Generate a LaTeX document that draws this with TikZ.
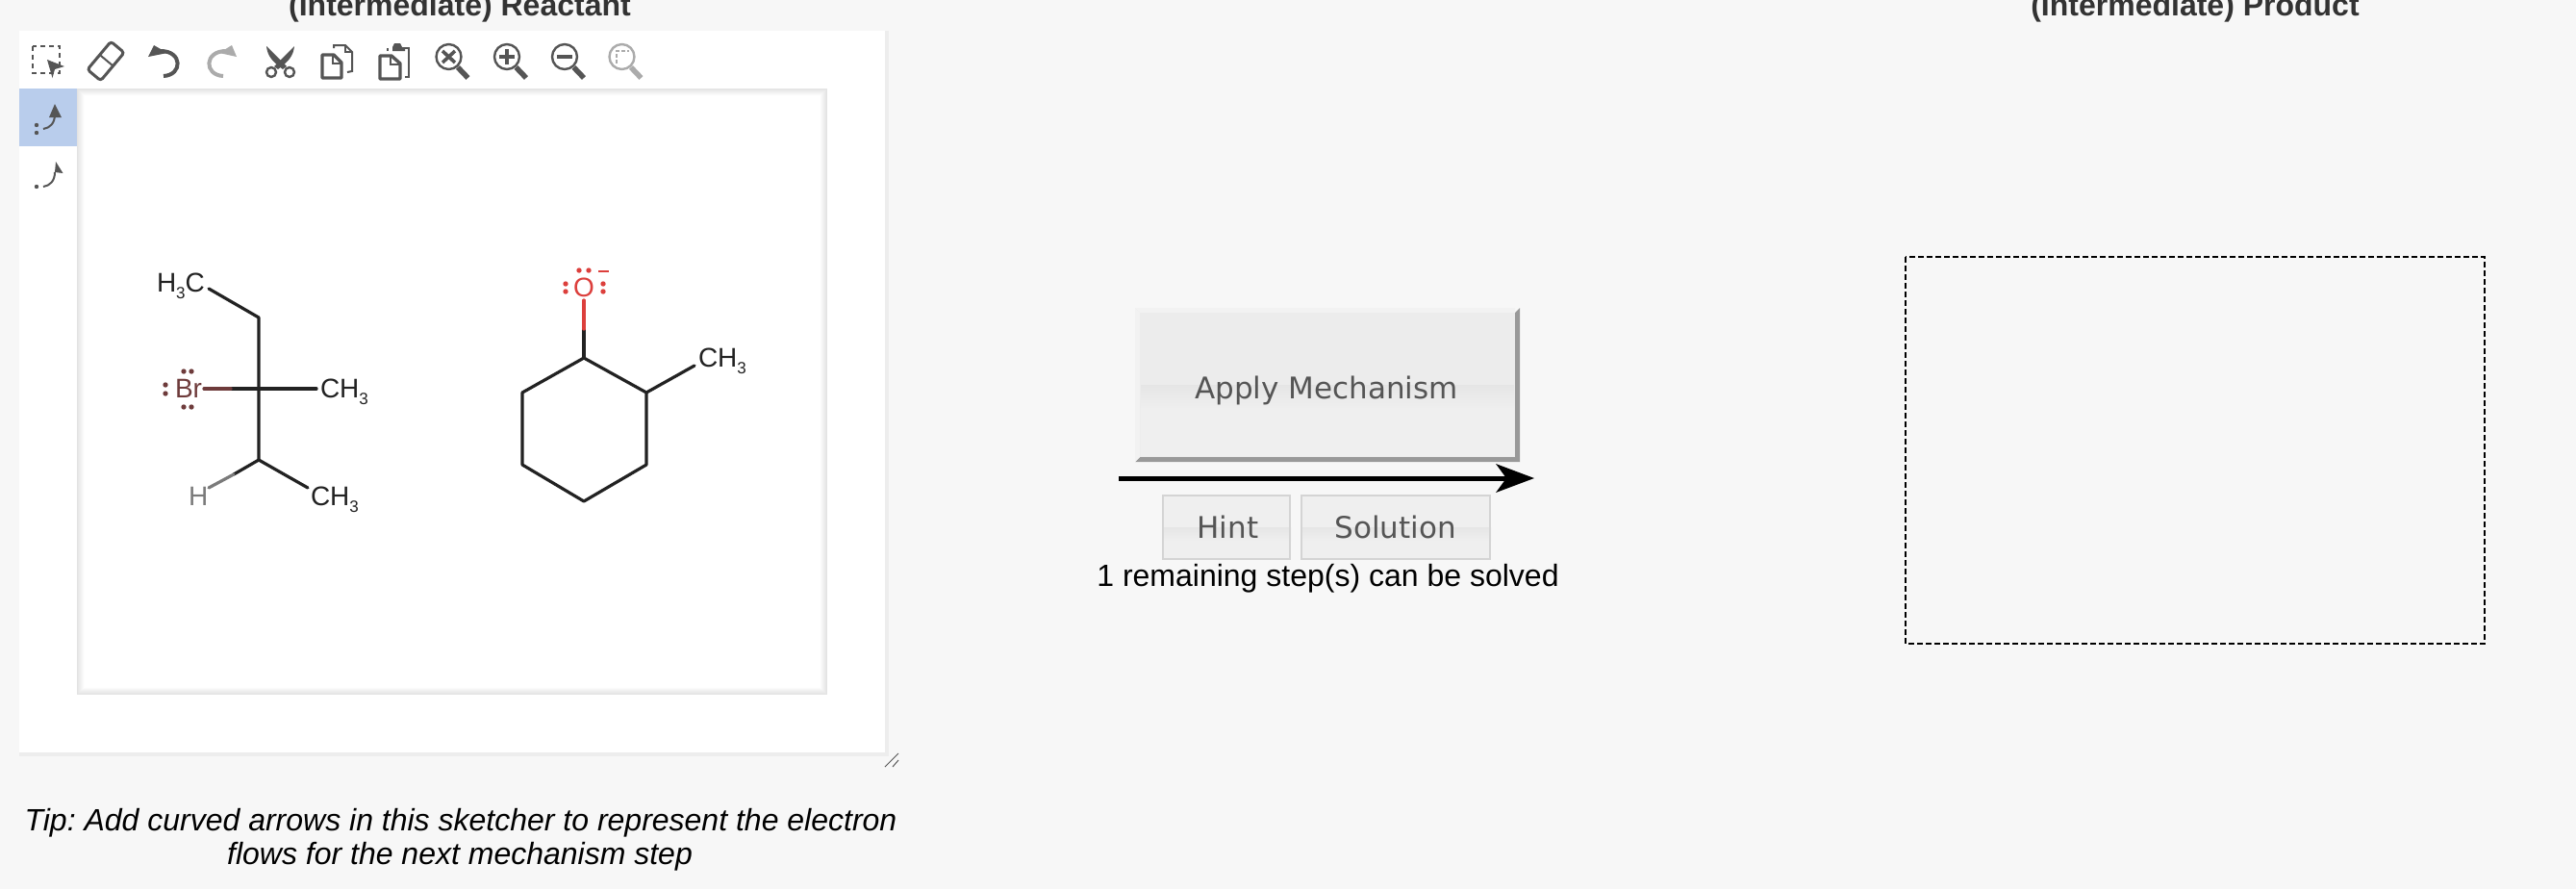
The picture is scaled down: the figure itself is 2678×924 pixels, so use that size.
\documentclass[tikz,border=0pt]{standalone}
\usepackage{fontspec}
\setmainfont{Liberation Sans}
\newfontfamily\verd{DejaVu Sans}
\frenchspacing
\definecolor{pagebg}{HTML}{F7F7F7}
\definecolor{ico}{HTML}{555555}
\definecolor{icooff}{HTML}{ABABAB}
\definecolor{brc}{HTML}{6E3B3B}
\definecolor{oxc}{HTML}{DC3F3C}
\definecolor{hc}{HTML}{7A7A7A}
\definecolor{bond}{HTML}{222222}
\definecolor{btnt}{HTML}{555555}
\definecolor{sel}{HTML}{B9CDEC}
\definecolor{btna}{HTML}{ECECEC}
\definecolor{btnb}{HTML}{EFEFEF}
\definecolor{btnc}{HTML}{F2F2F2}
\definecolor{edge}{HTML}{EDEDED}
\tikzset{
 atom/.style={anchor=base west,inner sep=0pt,outer sep=0pt,font=\fontsize{28}{28}\selectfont,text=bond},
 bondl/.style={draw=bond,line width=3.2pt,line join=round,line cap=round},
 btntext/.style={anchor=base,inner sep=0pt,font=\verd\fontsize{31}{31}\selectfont,text=btnt},
 title/.style={anchor=base,inner sep=0pt,font=\bfseries\fontsize{32}{32}\selectfont,text=black!80},
 note/.style={anchor=base,inner sep=0pt,text=black},
 lens/.style={draw=#1,line width=2.4pt,fill=white},
 handle/.style={draw=#1,line width=5.5pt},
}
\newcommand{\lensicon}[3]{%
 \draw[handle=#2] (#1+9.5,70) -- (#1+20,81);
 \draw[lens=#2] (#1,59) circle (13);
 #3
}
\begin{document}
\begin{tikzpicture}[x=1pt,y=-1pt]
\useasboundingbox (0,0) rectangle (2678,924);
\clip (0,0) rectangle (2678,924);
\fill[pagebg] (0,0) rectangle (2678,924);
% titles
\node[title] (t1) at (478,16) {(Intermediate) Reactant};
\node[title] (t2) at (2282,16) {(Intermediate) Product};
% panel
\fill[white] (20,32) rectangle (920,782);
\fill[edge] (20,782) rectangle (924,786);
\fill[edge] (920,32) rectangle (924,786);
% canvas with soft inner frame
\foreach \i in {0,...,7}{
 \pgfmathsetmacro{\g}{11-1.5*\i}
 \fill[black!\g] (80+\i,92+\i) rectangle (860-\i,722-\i);
}
\fill[white] (88,100) rectangle (852,714);
% side tool
\fill[sel] (20,92) rectangle (80,152);
% resize grip
\draw[ico,line width=1pt] (934,783) -- (920,797) (934,790) -- (928,797);
% toolbar icons
\draw[ico,line width=2.6pt,dash pattern=on 5pt off 4pt] (34,48) rectangle (62,76);
\fill[ico] (49,62) -- (67,69) -- (57,72) -- (54.5,81) -- cycle;
% eraser
\begin{scope}[shift={(110,63.5)},rotate=50]
\draw[ico,line width=3pt,rounded corners=3pt] (-19,-9) rectangle (19,9);
\draw[ico,line width=2pt] (1,-9) -- (1,9);
\end{scope}
% undo/redo
\draw[ico,line width=4pt] (167,53) .. controls (190,53) and (190,78) .. (170,79);
\fill[ico] (154,59) -- (160,47) -- (174,55) -- cycle;
\draw[icooff,line width=4pt] (235,53) .. controls (212,53) and (212,78) .. (232,79);
\fill[icooff] (246,59) -- (241,47) -- (228,55) -- cycle;
% scissors
\fill[ico] (277,48) -- (298,69) -- (294,72) .. controls (283,64) and (278,58) .. cycle;
\fill[ico] (306,48) -- (285,69) -- (289,72) .. controls (300,64) and (305,58) .. cycle;
\draw[ico,line width=2.4pt] (282,75) circle (5) (301,75) circle (5);
% copy
\draw[ico,line width=2pt] (347,50) -- (347,47) -- (359,47) -- (366,54) -- (366,74) -- (361,75);
\draw[ico,line width=1.5pt] (359,47) -- (359,54) -- (366,54);
\draw[ico,line width=3.4pt,fill=white,line join=round] (335,57) -- (347,57) -- (355,65) -- (355,81) -- (335,81) -- cycle;
\draw[ico,line width=1.8pt] (346,58) -- (346,66) -- (354,66);
% paste
\draw[ico,line width=2pt] (403,53) -- (403,50) (417,50) -- (425,50) -- (425,80) -- (421,80);
\fill[ico] (408,49) -- (410,45) -- (416,45) -- (418,49) -- (421,49) -- (421,53) -- (408,53) -- cycle;
\draw[ico,line width=3.4pt,fill=white,line join=round] (395,58) -- (407,58) -- (416,66) -- (416,82) -- (395,82) -- cycle;
\draw[ico,line width=1.8pt] (406,59) -- (406,67) -- (415,67);
% zoom icons
\lensicon{466.5}{ico}{\draw[ico,line width=3.6pt] (460,53) -- (473,65) (473,53) -- (460,65);}
\lensicon{527}{ico}{\draw[ico,line width=3.6pt] (519,59) -- (535,59) (527,51) -- (527,67);}
\lensicon{587}{ico}{\draw[ico,line width=3.6pt] (579,59) -- (595,59);}
\lensicon{646.5}{icooff}{\draw[icooff,line width=1.6pt,dash pattern=on 4pt off 2pt] (641,66) -- (641,53) -- (654,53);}
% side icons
\fill[ico] (38,130) circle (2.2) (38,138) circle (2.2);
\draw[ico,line width=2pt] (45,134) .. controls (52,133) and (57,128) .. (57,119);
\fill[ico] (57,108) -- (64,122) -- (51,122) -- cycle;
\fill[ico] (38,194) circle (2.2);
\draw[ico,line width=2pt] (45,194) .. controls (52,193) and (57,188) .. (57,179);
\fill[ico] (58,168) -- (65.5,180) -- (57,179) -- cycle;
% molecule 1
\coordinate (a1) at (217,300);
\coordinate (a2) at (269,330);
\coordinate (a3) at (269,404);
\coordinate (a4) at (269,478);
\coordinate (brend) at (212,404);
\coordinate (brmid) at (240,404);
\coordinate (me1) at (329,404);
\coordinate (hend) at (217,507);
\coordinate (hmid) at (243,493);
\coordinate (me2) at (320,507);
\draw[bondl] (a1) -- (a2) -- (a3) -- (a4);
\draw[bondl] (a3) -- (me1);
\draw[bondl] (a4) -- (me2);
\draw[bondl] (a3) -- (brmid);
\draw[draw=brc,line width=3.2pt,line cap=round] (brmid) -- (brend);
\draw[bondl] (a4) -- (hmid);
\draw[draw=hc,line width=3.2pt,line cap=round] (hmid) -- (hend);
\node[atom] (h3c) at (163,303) {H\raisebox{-0.25em}{\fontsize{17}{17}\selectfont 3}C};
\node[atom,text=brc] (br) at (182,413) {Br};
\node[atom] (ch3a) at (333,413) {CH\raisebox{-0.25em}{\fontsize{17}{17}\selectfont 3}};
\node[atom,text=hc] (hh) at (196,525) {H};
\node[atom] (ch3b) at (323,525) {CH\raisebox{-0.25em}{\fontsize{17}{17}\selectfont 3}};
\fill[brc] (172,400) circle (2.7) (172,409) circle (2.7) (191,386) circle (2.7) (199,386) circle (2.7) (191,423) circle (2.7) (199,423) circle (2.7);
% molecule 2
\coordinate (r1) at (607,372);
\coordinate (r2) at (672,408);
\coordinate (r3) at (672,483);
\coordinate (r4) at (607,521);
\coordinate (r5) at (543,483);
\coordinate (r6) at (543,408);
\coordinate (omid) at (607,342);
\coordinate (oend) at (607,312);
\coordinate (me3) at (722,380);
\draw[bondl] (r1) -- (r2) -- (r3) -- (r4) -- (r5) -- (r6) -- cycle;
\draw[bondl] (r2) -- (me3);
\draw[bondl] (r1) -- (omid);
\draw[draw=oxc,line width=3.2pt,line cap=round] (omid) -- (oend);
\node[atom,text=oxc,anchor=base] (ox) at (607,308) {O};
\node[atom] (ch3c) at (726,381) {CH\raisebox{-0.25em}{\fontsize{17}{17}\selectfont 3}};
\fill[oxc] (602,281) circle (2.7) (612,281) circle (2.7) (588,295) circle (2.7) (588,303) circle (2.7) (627,295) circle (2.7) (627,303) circle (2.7);
\draw[oxc,line width=1.6pt] (622,282) -- (633,282);
% apply button
\fill[black!40] (1180,480) -- (1185,475) -- (1575,475) -- (1575,325) -- (1580,320) -- (1580,480) -- cycle;
\fill[btna] (1180,320) rectangle (1575,475);
\fill[btnc] (1180,320) -- (1185,325) -- (1185,475) -- (1180,480) -- cycle;
\fill[btnc] (1180,320) -- (1575,320) -- (1575,325) -- (1185,325) -- cycle;
\shade[top color=black!10,bottom color=btnb] (1186,400) rectangle (1574,425);
\fill[btnb] (1186,425) rectangle (1574,474);
\node[btntext] (apply) at (1379,414) {Apply Mechanism};
% reaction arrow
\coordinate (arrs) at (1163,497);
\coordinate (arre) at (1570,497);
\draw[black,line width=5pt] (arrs) -- (arre);
\fill[black] (1595,497) -- (1555,512) -- (1566,497) -- (1555,482) -- cycle;
% hint / solution
\foreach \n/\a/\b/\t/\tx in {hint/1208/1342/Hint/1276.5,sol/1352/1550/Solution/1450.5}{
 \fill[btnb] (\a,514) rectangle (\b,582);
 \shade[top color=black!10,bottom color=btnb] (\a,548) rectangle (\b,562);
 \draw[black!17,line width=2pt] (\a+1,515) rectangle (\b-1,581);
 \node[btntext] (\n) at (\tx,559) {\t};
}
\node[note,font=\fontsize{32}{32}\selectfont] (remain) at (1380.5,609) {1 remaining step(s) can be solved};
% tip
\node[note,font=\itshape\fontsize{32}{32}\selectfont] (tip1) at (479,863) {Tip: Add curved arrows in this sketcher to represent the electron};
\node[note,font=\itshape\fontsize{32}{32}\selectfont] (tip2) at (478,898) {flows for the next mechanism step};
% product box
\draw[black,line width=2pt,dash pattern=on 6pt off 3pt] (1981,267) rectangle (2583,669);
\end{tikzpicture}
\end{document}
